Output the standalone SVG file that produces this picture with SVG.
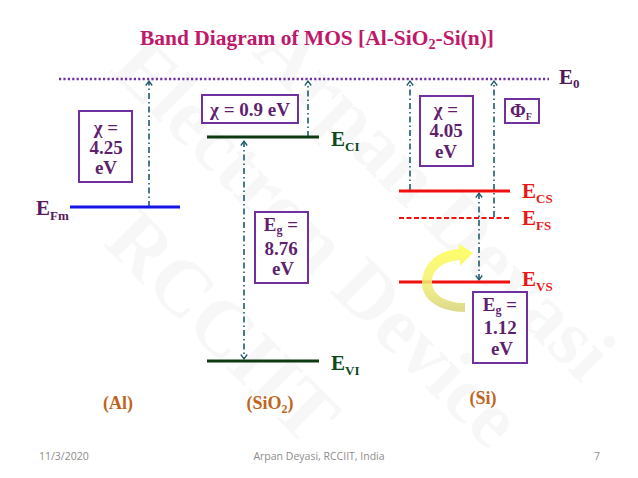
<svg xmlns="http://www.w3.org/2000/svg" width="638" height="478" viewBox="0 0 638 478">
<style>
.bx{fill:#fff;stroke:#7030A0;stroke-width:2}
.bt{font-family:"Liberation Serif","DejaVu Serif",serif;font-weight:bold;font-size:19px;fill:#5F1F6F;text-anchor:middle}
.lbl{font-family:"Liberation Serif","DejaVu Serif",serif;font-weight:bold;font-size:21px}
.sub{font-size:13px}
.mat{font-family:"Liberation Serif","DejaVu Serif",serif;font-weight:bold;font-size:18px;fill:#C0651E;text-anchor:middle}
.ft{font-family:"Open Sans","Liberation Sans",sans-serif;font-size:10.5px;fill:#8C8C8C}
.con{fill:none;stroke:#1F5A6A;stroke-width:1.6;stroke-dasharray:6 3 1.5 3}
.wm{font-family:"Liberation Serif",serif;font-weight:bold;font-size:80px;fill:#000;fill-opacity:0.03;text-anchor:middle}
</style>
<defs>
<marker id="ah" viewBox="-6 -5 8 10" markerWidth="8" markerHeight="10" markerUnits="userSpaceOnUse" orient="auto-start-reverse" refX="0" refY="0">
<path d="M -4.5 -3.2 L 0 0 L -4.5 3.2" fill="none" stroke="#1F5A6A" stroke-width="1.3"/>
</marker>
<linearGradient id="yg" x1="0" y1="0" x2="0" y2="1">
<stop offset="0" stop-color="#FFFF4D"/>
<stop offset="0.55" stop-color="#F4F070"/>
<stop offset="1" stop-color="#D6D27A"/>
</linearGradient>
</defs>
<rect width="638" height="478" fill="#fff"/>
<g id="watermark" transform="rotate(45 320 240)">
<text class="wm" x="373" y="157">Arpan Deyasi</text>
<text class="wm" x="320" y="270">Electron Device</text>
<text class="wm" x="313" y="397">RCCIIT</text>
</g>
<g id="title">
<text x="317" y="45" font-family="'Liberation Serif','DejaVu Serif',serif" font-weight="bold" font-size="21" fill="#C0186A" text-anchor="middle" textLength="354" lengthAdjust="spacingAndGlyphs">Band Diagram of MOS [Al-SiO<tspan font-size="14" dy="4">2</tspan><tspan dy="-4">-Si(n)]</tspan></text>
</g>
<g id="E0">
<line x1="59" y1="79" x2="549" y2="79" stroke="#7030A0" stroke-width="2.6" stroke-dasharray="2.2 2.2"/>
<text class="lbl" x="559" y="84" fill="#4E1A5A">E<tspan class="sub" dy="4">0</tspan></text>
</g>
<g id="connectors">
<path class="con" d="M149 207 L149 81" marker-end="url(#ah)"/>
<path class="con" d="M308 137 L308 81" marker-end="url(#ah)"/>
<path class="con" d="M244 141 L244 359" marker-start="url(#ah)" marker-end="url(#ah)"/>
<path class="con" d="M410 190 L410 81" marker-end="url(#ah)"/>
<path class="con" d="M494 217 L494 81" marker-end="url(#ah)"/>
<path class="con" d="M479 193 L479 280" marker-start="url(#ah)" marker-end="url(#ah)"/>
</g>
<g id="Al">
<line x1="70" y1="207" x2="180" y2="207" stroke="#1515E6" stroke-width="3"/>
<text class="lbl" x="36" y="215" fill="#5A1A5E">E<tspan class="sub" dy="5">Fm</tspan></text>
<rect class="bx" x="79" y="111" width="53" height="71"/>
<text class="bt" x="106" y="134">χ =</text>
<text class="bt" x="106" y="154">4.25</text>
<text class="bt" x="106" y="174">eV</text>
<text class="mat" x="118" y="409">(Al)</text>
</g>
<g id="SiO2">
<line x1="207" y1="137" x2="319" y2="137" stroke="#0E3A12" stroke-width="3"/>
<line x1="207" y1="361" x2="319" y2="361" stroke="#0E3A12" stroke-width="3"/>
<text class="lbl" x="331" y="146" fill="#0E4A1E">E<tspan class="sub" dy="5">CI</tspan></text>
<text class="lbl" x="331" y="370" fill="#0E4A1E">E<tspan class="sub" dy="5">VI</tspan></text>
<rect class="bx" x="202" y="95" width="96" height="28"/>
<text class="bt" x="250" y="116">χ = 0.9 eV</text>
<rect class="bx" x="255" y="212" width="53" height="71"/>
<text class="bt" x="281" y="231">E<tspan font-size="12" dy="3">g</tspan><tspan dy="-3"> =</tspan></text>
<text class="bt" x="281" y="255">8.76</text>
<text class="bt" x="283" y="275">eV</text>
<text class="mat" x="270" y="409">(SiO<tspan font-size="12" dy="4">2</tspan><tspan dy="-4">)</tspan></text>
</g>
<g id="Si">
<line x1="399" y1="191" x2="510" y2="191" stroke="#F01010" stroke-width="3"/>
<line x1="399" y1="218" x2="510" y2="218" stroke="#F01010" stroke-width="1.8" stroke-dasharray="5 2.5"/>
<line x1="399" y1="282" x2="510" y2="282" stroke="#F01010" stroke-width="3"/>
<text class="lbl" x="522" y="198" fill="#E81818">E<tspan class="sub" dy="5">CS</tspan></text>
<text class="lbl" x="522" y="225" fill="#E81818">E<tspan class="sub" dy="5">FS</tspan></text>
<text class="lbl" x="522" y="286" fill="#E81818">E<tspan class="sub" dy="5">VS</tspan></text>
<rect class="bx" x="420" y="96" width="53" height="70"/>
<text class="bt" x="446" y="116">χ =</text>
<text class="bt" x="446" y="137">4.05</text>
<text class="bt" x="446" y="158">eV</text>
<rect class="bx" x="505" y="99" width="34" height="24"/>
<text class="bt" x="521" y="117" font-size="17">Φ<tspan font-size="10" dy="3">F</tspan></text>
<path d="M465 312 C440 312 421 300 422 282 C423 262 440 250 459 249 L459 244 L473 253 L460 266 L460 260 C446 261 432 268 432 282 C432 295 446 303 465 303 Z" fill="url(#yg)" fill-opacity="0.85"/>
<rect class="bx" x="473" y="292" width="54" height="71"/>
<text class="bt" x="500" y="311">E<tspan font-size="12" dy="3">g</tspan><tspan dy="-3"> =</tspan></text>
<text class="bt" x="500" y="334">1.12</text>
<text class="bt" x="502" y="355">eV</text>
<text class="mat" x="483" y="404">(Si)</text>
</g>
<g id="footer">
<text class="ft" x="39" y="460">11/3/2020</text>
<text class="ft" x="319" y="460" text-anchor="middle">Arpan Deyasi, RCCIIT, India</text>
<text class="ft" x="594" y="460">7</text>
</g>
</svg>
